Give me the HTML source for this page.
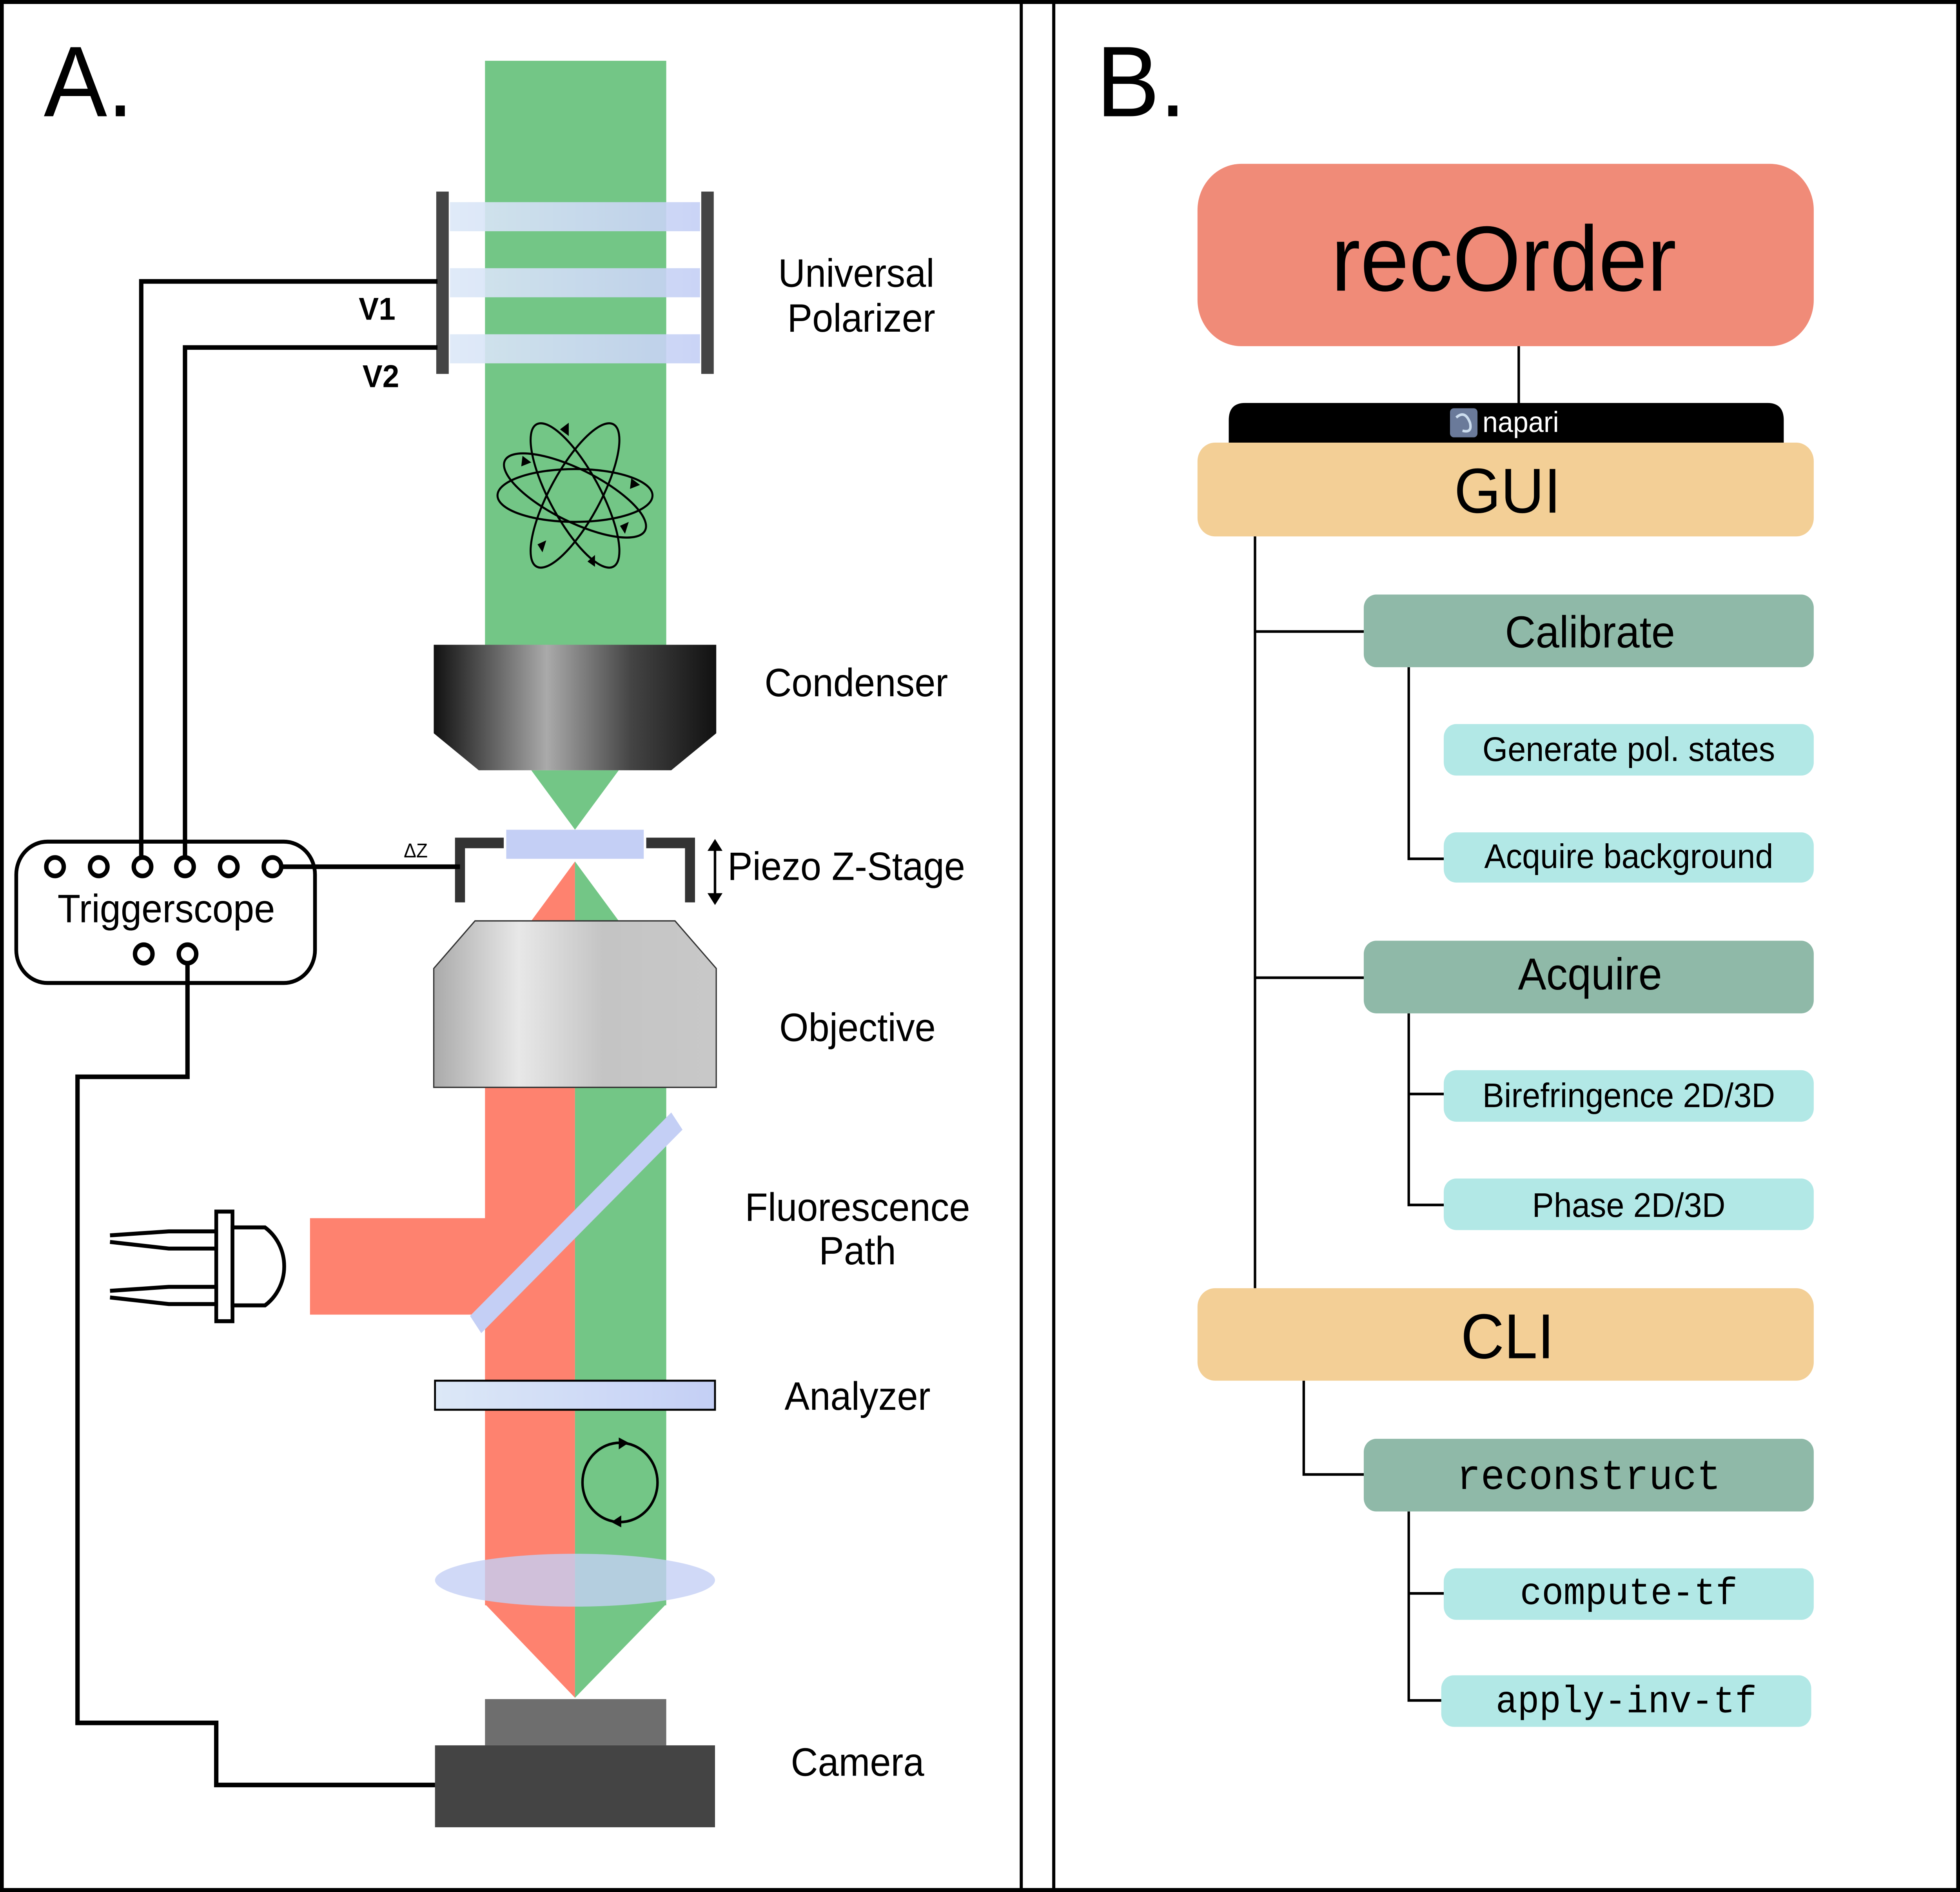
<!DOCTYPE html>
<html><head><meta charset="utf-8"><style>html,body{margin:0;padding:0;background:#fff;overflow:hidden;width:100%;height:100%}svg{display:block;position:fixed;left:0;top:0;width:100vw;height:100vh}</style></head>
<body>
<svg viewBox="0 0 1568 1432" preserveAspectRatio="none" xmlns="http://www.w3.org/2000/svg" font-family="Liberation Sans, sans-serif">
<defs>
<linearGradient id="cond" x1="0" x2="1"><stop offset="0" stop-color="#111"/><stop offset="0.4" stop-color="#aaa"/><stop offset="0.7" stop-color="#444"/><stop offset="1" stop-color="#111"/></linearGradient>
<linearGradient id="obj" x1="0" x2="1"><stop offset="0" stop-color="#aaa"/><stop offset="0.3" stop-color="#e8e8e8"/><stop offset="0.6" stop-color="#c4c4c4"/><stop offset="1" stop-color="#c8c8c8"/></linearGradient>
<linearGradient id="pol" x1="0" x2="1"><stop offset="0" stop-color="#dce8f7"/><stop offset="1" stop-color="#c4cff5"/></linearGradient>
</defs>
<rect x="1.5" y="1.5" width="1565" height="1429" fill="#fff" stroke="#000" stroke-width="3"/>
<line x1="817" y1="0" x2="817" y2="1432" stroke="#000" stroke-width="2.5"/>
<line x1="843" y1="0" x2="843" y2="1432" stroke="#000" stroke-width="2.5"/>
<text x="35" y="88" font-size="76">A.</text>
<text x="877" y="88" font-size="76">B.</text>

<rect x="388" y="46" width="145" height="444" fill="#73c686"/>
<polygon points="425,583 495,583 460,628" fill="#73c686"/>
<polygon points="460,652 425,697 460,697" fill="#fe826f"/>
<polygon points="460,652 495,697 460,697" fill="#73c686"/>
<rect x="388" y="823" width="72" height="392" fill="#fe826f"/>
<rect x="460" y="823" width="73" height="392" fill="#73c686"/>
<polygon points="388,1214 460,1214 460,1285" fill="#fe826f"/>
<polygon points="460,1214 533,1214 460,1285" fill="#73c686"/>
<rect x="248" y="922" width="141" height="73" fill="#fe826f"/>

<rect x="360" y="153" width="200" height="22" fill="url(#pol)" opacity="0.9"/>
<rect x="360" y="203" width="200" height="22" fill="url(#pol)" opacity="0.9"/>
<rect x="360" y="253" width="200" height="22" fill="url(#pol)" opacity="0.9"/>
<rect x="349" y="145" width="10" height="138" fill="#444"/>
<rect x="561" y="145" width="10" height="138" fill="#444"/>

<g fill="none" stroke="#000" stroke-width="1.6">
<ellipse cx="460" cy="375" rx="62" ry="20"/>
<ellipse cx="460" cy="375" rx="62" ry="20" transform="rotate(60 460 375)"/>
<ellipse cx="460" cy="375" rx="62" ry="20" transform="rotate(-60 460 375)"/>
<ellipse cx="460" cy="375" rx="62" ry="20" transform="rotate(25 460 375)"/>
</g>
<g fill="#000"><polygon points="418,345 425,350 417,353"/><polygon points="505,362 512,367 504,370"/><polygon points="430,412 437,409 434,418"/><polygon points="470,425 476,420 476,429"/><polygon points="448,325 455,320 455,330"/><polygon points="496,398 503,395 500,404"/></g>

<polygon points="347,488 573,488 573,555 537,583 383,583 347,555" fill="url(#cond)"/>
<rect x="405" y="628" width="110" height="22" fill="#c4cff5"/>
<path d="M368,683 V638 H403 M517,638 H552 V683" fill="none" stroke="#333" stroke-width="8"/>
<text x="323" y="649" font-size="15">ΔZ</text>
<line x1="572" y1="642" x2="572" y2="678" stroke="#000" stroke-width="2"/>
<polygon points="566,644 578,644 572,635" fill="#000"/><polygon points="566,676 578,676 572,685" fill="#000"/>
<polygon points="380,697 540,697 573,733 573,823 347,823 347,733" fill="url(#obj)" stroke="#333" stroke-width="1"/>
<polygon points="376,996 537,842 546,855 385,1009" fill="#c4cff5"/>
<rect x="348" y="1045" width="224" height="22" fill="url(#pol)" stroke="#000" stroke-width="1.5"/>
<circle cx="496" cy="1122" r="30" fill="none" stroke="#000" stroke-width="2"/>
<polygon points="495,1088 503,1092 495,1097" fill="#000"/><polygon points="497,1147 489,1152 497,1156" fill="#000"/>
<ellipse cx="460" cy="1196" rx="112" ry="20" fill="#c4cff5" opacity="0.8"/>
<rect x="388" y="1286" width="145" height="35" fill="#6e6e6e"/>
<rect x="348" y="1321" width="224" height="62" fill="#444"/>

<g fill="none" stroke="#000" stroke-width="3.5">
<path d="M113,655 V213 H350"/>
<path d="M148,655 V263 H350"/>
<path d="M218,656 H368"/>
<path d="M150,722 V815 H62 V1304 H173 V1351 H348"/>
</g>
<text x="287" y="242" font-size="24" font-weight="bold">V1</text>
<text x="290" y="293" font-size="24" font-weight="bold">V2</text>
<rect x="13" y="637" width="239" height="107" rx="25" fill="none" stroke="#000" stroke-width="3"/>
<g fill="#fff" stroke="#000" stroke-width="3.5">
<circle cx="44" cy="656" r="7"/><circle cx="79" cy="656" r="7"/><circle cx="114" cy="656" r="7"/><circle cx="148" cy="656" r="7"/><circle cx="183" cy="656" r="7"/><circle cx="218" cy="656" r="7"/>
<circle cx="115" cy="722" r="7"/><circle cx="150" cy="722" r="7"/>
</g>
<text x="133" y="698" font-size="30" text-anchor="middle">Triggerscope</text>
<g fill="#fff" stroke="#000" stroke-width="3">
<path d="M186,917 V1000 H173 V917 Z"/>
<path d="M186,929 H212 A36,36 0 0 1 212,988 H186 Z"/>
<path d="M88,935 L135,932 H173 V945 H135 L88,940" />
<path d="M88,977 L135,974 H173 V987 H135 L88,982" />
</g>
<g font-size="30" text-anchor="middle">
<text x="685" y="217">Universal</text><text x="689" y="251">Polarizer</text>
<text x="685" y="527">Condenser</text>
<text x="582" y="666" text-anchor="start">Piezo Z-Stage</text>
<text x="686" y="788">Objective</text>
<text x="686" y="924">Fluorescence</text><text x="686" y="957">Path</text>
<text x="686" y="1067">Analyzer</text>
<text x="686" y="1344">Camera</text>
</g>

<rect x="958" y="124" width="493" height="138" rx="35" fill="#f08b78"/>
<text x="1203" y="220" font-size="70" text-anchor="middle">recOrder</text>
<line x1="1215" y1="262" x2="1215" y2="306" stroke="#000" stroke-width="2"/>
<path d="M983,340 V318 Q983,305 996,305 H1414 Q1427,305 1427,318 V340 Z" fill="#000"/>
<rect x="1160" y="309" width="22" height="22" rx="3" fill="#6a7a9a"/>
<path d="M1165,316 Q1172,310 1176,320 Q1178,328 1170,326" fill="none" stroke="#cde" stroke-width="2"/>
<text x="1186" y="327" font-size="22" fill="#fff">napari</text>
<rect x="958" y="335" width="493" height="71" rx="14" fill="#f3cf96"/>
<text x="1206" y="388" font-size="48" text-anchor="middle">GUI</text>
<g fill="none" stroke="#000" stroke-width="2">
<path d="M1004,406 V975 M1004,478 H1092 M1004,740 H1092"/>
<path d="M1127,505 V650 H1156"/>
<path d="M1127,767 V912 H1156 M1127,828 H1156"/>
<path d="M1043,1045 V1116 H1092"/>
<path d="M1127,1144 V1287 H1154 M1127,1206 H1156"/>
</g>
<g fill="#8fb9a8">
<rect x="1091" y="450" width="360" height="55" rx="10"/>
<rect x="1091" y="712" width="360" height="55" rx="10"/>
<rect x="1091" y="1089" width="360" height="55" rx="10"/>
</g>
<g fill="#b2e8e6">
<rect x="1155" y="548" width="296" height="39" rx="10"/>
<rect x="1155" y="630" width="296" height="38" rx="10"/>
<rect x="1155" y="810" width="296" height="39" rx="10"/>
<rect x="1155" y="892" width="296" height="39" rx="10"/>
<rect x="1155" y="1187" width="296" height="39" rx="10"/>
<rect x="1153" y="1268" width="296" height="39" rx="10"/>
</g>
<rect x="958" y="975" width="493" height="70" rx="14" fill="#f3cf96"/>
<text x="1206" y="1028" font-size="48" text-anchor="middle">CLI</text>
<g font-size="34" text-anchor="middle">
<text x="1272" y="490">Calibrate</text>
<text x="1272" y="749">Acquire</text>
</g>
<g font-size="26" text-anchor="middle">
<text x="1303" y="576">Generate pol. states</text>
<text x="1303" y="657">Acquire background</text>
<text x="1303" y="838">Birefringence 2D/3D</text>
<text x="1303" y="921">Phase 2D/3D</text>
</g>
<g font-family="Liberation Mono, monospace" text-anchor="middle">
<text x="1271" y="1127" font-size="32">reconstruct</text>
<text x="1303" y="1214" font-size="29">compute-tf</text>
<text x="1301" y="1296" font-size="29">apply-inv-tf</text>
</g>
</svg>
</body></html>
